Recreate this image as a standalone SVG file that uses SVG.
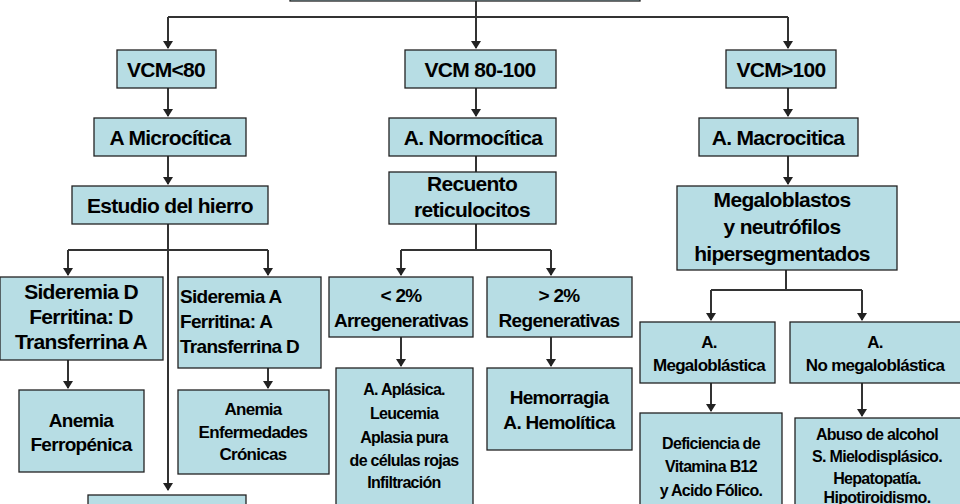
<svg xmlns="http://www.w3.org/2000/svg" width="960" height="504" viewBox="0 0 960 504">
<style>
.b{fill:#b7dde4;stroke:#222;stroke-width:1.3}
.s{fill:none;stroke:#333;stroke-width:2}
text{font-family:"Liberation Sans",Arial,sans-serif;font-weight:bold;fill:#000;text-anchor:middle;letter-spacing:-0.7px}
.l{font-size:21px}.m{font-size:19px}.n{font-size:17px}.k{font-size:16px}
</style>
<defs><marker id="a" markerWidth="8" markerHeight="10" refX="7" refY="5" orient="auto" markerUnits="userSpaceOnUse"><path d="M0,0L8,5L0,10z" fill="#222"/></marker></defs>
<rect width="960" height="504" fill="#fff"/>
<g id="connectors" class="s">
<path d="M476,0V17"/><path d="M168,17H788"/>
<path d="M168,17V48" marker-end="url(#a)"/><path d="M476,17V48" marker-end="url(#a)"/><path d="M788,17V48" marker-end="url(#a)"/>
<path d="M168,88V116" marker-end="url(#a)"/><path d="M168,156V184" marker-end="url(#a)"/>
<path d="M168,224V490" marker-end="url(#a)"/><path d="M68,250H268"/>
<path d="M68,250V275" marker-end="url(#a)"/><path d="M268,250V275" marker-end="url(#a)"/>
<path d="M68,360V388" marker-end="url(#a)"/><path d="M268,368V388" marker-end="url(#a)"/>
<path d="M476,88V116" marker-end="url(#a)"/><path d="M476,156V172"/>
<path d="M476,224V250"/><path d="M401,250H551"/>
<path d="M401,250V275" marker-end="url(#a)"/><path d="M551,250V275" marker-end="url(#a)"/>
<path d="M401,337V366" marker-end="url(#a)"/><path d="M551,337V366" marker-end="url(#a)"/>
<path d="M788,88V116" marker-end="url(#a)"/><path d="M788,156V184" marker-end="url(#a)"/>
<path d="M786,270V290"/><path d="M711,290H862"/>
<path d="M711,290V320" marker-end="url(#a)"/><path d="M862,290V320" marker-end="url(#a)"/>
<path d="M711,383V411" marker-end="url(#a)"/><path d="M862,383V416" marker-end="url(#a)"/>
</g>
<g id="top"><rect class="b" x="290" y="-20" width="350" height="21"/></g>
<g id="vcm80"><rect class="b" x="117" y="50" width="99" height="38"/><text class="l" x="166" y="77">VCM&lt;80</text></g>
<g id="micro"><rect class="b" x="94" y="118" width="152" height="38"/><text class="l" x="170" y="145">A Microcítica</text></g>
<g id="hierro"><rect class="b" x="72" y="186" width="196" height="38"/><text class="l" x="170" y="213">Estudio del hierro</text></g>
<g id="sidD"><rect class="b" x="0" y="277" width="163" height="83"/><text class="l" x="81" y="299">Sideremia D</text><text class="l" x="81" y="324">Ferritina: D</text><text class="l" x="81" y="349">Transferrina A</text></g>
<g id="ferro"><rect class="b" x="19" y="390" width="125" height="82"/><text class="m" x="81" y="427">Anemia</text><text class="m" x="81" y="451">Ferropénica</text></g>
<g id="sidA"><rect class="b" x="178" y="277" width="143" height="91"/><text class="m" x="180" y="303" style="text-anchor:start">Sideremia A</text><text class="m" x="180" y="328" style="text-anchor:start">Ferritina: A</text><text class="m" x="180" y="353" style="text-anchor:start">Transferrina D</text></g>
<g id="cronicas"><rect class="b" x="178" y="390" width="151" height="84"/><text class="n" x="253" y="415">Anemia</text><text class="n" x="253" y="438">Enfermedades</text><text class="n" x="253" y="460">Crónicas</text></g>
<g id="bottom"><rect class="b" x="88" y="495" width="158" height="20"/></g>
<g id="vcm100"><rect class="b" x="405" y="50" width="151" height="38"/><text class="l" x="480" y="77">VCM 80-100</text></g>
<g id="normo"><rect class="b" x="389" y="118" width="167" height="38"/><text class="l" x="473" y="145">A. Normocítica</text></g>
<g id="recuento"><rect class="b" x="389" y="172" width="167" height="52"/><text class="l" x="472" y="191">Recuento</text><text class="l" x="472" y="217">reticulocitos</text></g>
<g id="menos2"><rect class="b" x="329" y="277" width="144" height="60"/><text class="m" x="401" y="302">&lt; 2%</text><text class="m" x="401" y="327">Arregenerativas</text></g>
<g id="aplasica"><rect class="b" x="336" y="368" width="137" height="140"/><text class="k" x="404" y="395">A. Aplásica.</text><text class="k" x="404" y="419">Leucemia</text><text class="k" x="404" y="443">Aplasia pura</text><text class="k" x="404" y="466">de células rojas</text><text class="k" x="404" y="488">Infiltración</text></g>
<g id="mas2"><rect class="b" x="487" y="277" width="145" height="60"/><text class="m" x="559" y="302">&gt; 2%</text><text class="m" x="559" y="327">Regenerativas</text></g>
<g id="hemo"><rect class="b" x="487" y="368" width="145" height="82"/><text class="m" x="559" y="404">Hemorragia</text><text class="m" x="559" y="429">A. Hemolítica</text></g>
<g id="vcmgt100"><rect class="b" x="726" y="50" width="110" height="38"/><text class="l" x="781" y="77">VCM&gt;100</text></g>
<g id="macro"><rect class="b" x="699" y="118" width="159" height="38"/><text class="l" x="778" y="145">A. Macrocitica</text></g>
<g id="megalo"><rect class="b" x="677" y="186" width="220" height="84"/><text class="l" x="782" y="207">Megaloblastos</text><text class="l" x="782" y="234">y neutrófilos</text><text class="l" x="782" y="261">hipersegmentados</text></g>
<g id="amegalo"><rect class="b" x="640" y="322" width="135" height="61"/><text class="n" x="709" y="348">A.</text><text class="n" x="709" y="371">Megaloblástica</text></g>
<g id="anomegalo"><rect class="b" x="790" y="322" width="172" height="61"/><text class="n" x="875" y="348">A.</text><text class="n" x="875" y="371">No megaloblástica</text></g>
<g id="deficiencia"><rect class="b" x="640" y="413" width="142" height="95"/><text class="k" x="711" y="449">Deficiencia de</text><text class="k" x="711" y="472">Vitamina B12</text><text class="k" x="711" y="496">y Acido Fólico.</text></g>
<g id="abuso"><rect class="b" x="795" y="418" width="170" height="90"/><text class="k" x="877" y="440">Abuso de alcohol</text><text class="k" x="877" y="462">S. Mielodisplásico.</text><text class="k" x="877" y="484">Hepatopatía.</text><text class="k" x="877" y="503">Hipotiroidismo.</text></g>
</svg>
